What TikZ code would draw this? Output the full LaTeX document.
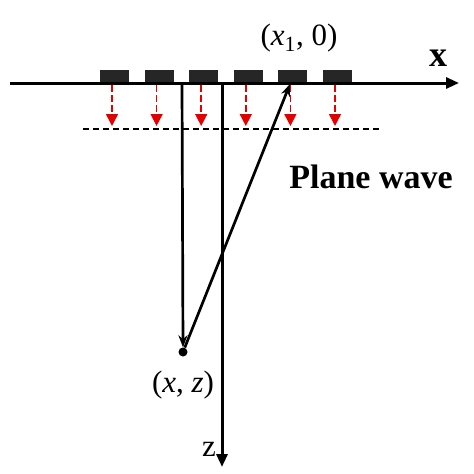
\documentclass[tikz,border=0pt]{standalone}
\usepackage{fontspec}
\setmainfont{Liberation Serif}
\usetikzlibrary{arrows.meta, positioning}
\tikzset{sensor/.style={fill=black!85, minimum width=29pt, minimum height=13pt, inner sep=0pt}}
\tikzset{axis/.style={line width=3pt, -{Triangle[length=13pt,width=11pt]}}}
\tikzset{ray/.style={line width=2.7pt, -{Stealth[length=12pt,width=9pt]}}}
\tikzset{wave/.style={red!90!black, line width=1.6pt, dash pattern=on 7pt off 3pt, -{Triangle[length=12pt,width=12pt]}}}
\tikzset{lbl/.style={font=\fontsize{31}{31}\selectfont, inner sep=0pt}}
\tikzset{dot/.style={circle, fill=black, minimum size=9pt, inner sep=0pt}}

\begin{document}
\begin{tikzpicture}[x=1pt, y=-1pt]
    \useasboundingbox (0,0) rectangle (474,474);
    % sensors on the surface
    \foreach \i in {1,...,6} {
        \node (s\i) [sensor] at ({114.5+44.6*(\i-1)},76.5) {};
        \coordinate (top\i) at ({112+44.6*(\i-1)},85);
        \coordinate (bot\i) at ({112+44.6*(\i-1)},126);
        \draw [wave] (top\i) -- (bot\i);
    }
    \coordinate (dl) at (83,129);
    \coordinate (dr) at (380,129);
    \draw [line width=1.6pt, dash pattern=on 6pt off 4pt] (dl) -- (dr);

    % axes
    \coordinate (xstart) at (10,83);
    \coordinate (xend) at (459,83);
    \coordinate (ztop) at (222,83);
    \coordinate (zend) at (222,467);
    \draw [axis] (xstart) -- (xend);
    \draw [axis] (ztop) -- (zend);

    % rays
    \node (pt) [dot] at (183,352) {};
    \coordinate (vtop) at (182,83);
    \coordinate (x1) at (290,84);
    \draw [ray] (vtop) -- (pt.north);
    \draw [ray] (pt) -- (x1);

    % labels
    \node (x1lab) [lbl] at (299,38) {(\textit{x}\textsubscript{1}, 0)};
    \node (ptlab) [lbl, below=14pt of pt] {(\textit{x}, \textit{z})};
    \node (xlab) [lbl, font=\fontsize{36}{36}\selectfont\bfseries] at (438,58) {x};
    \node (zlab) [lbl] at (209,449) {z};
    \node (wlab) [lbl, font=\fontsize{34}{34}\selectfont\bfseries] at (371,177) {Plane wave};
\end{tikzpicture}
\end{document}
